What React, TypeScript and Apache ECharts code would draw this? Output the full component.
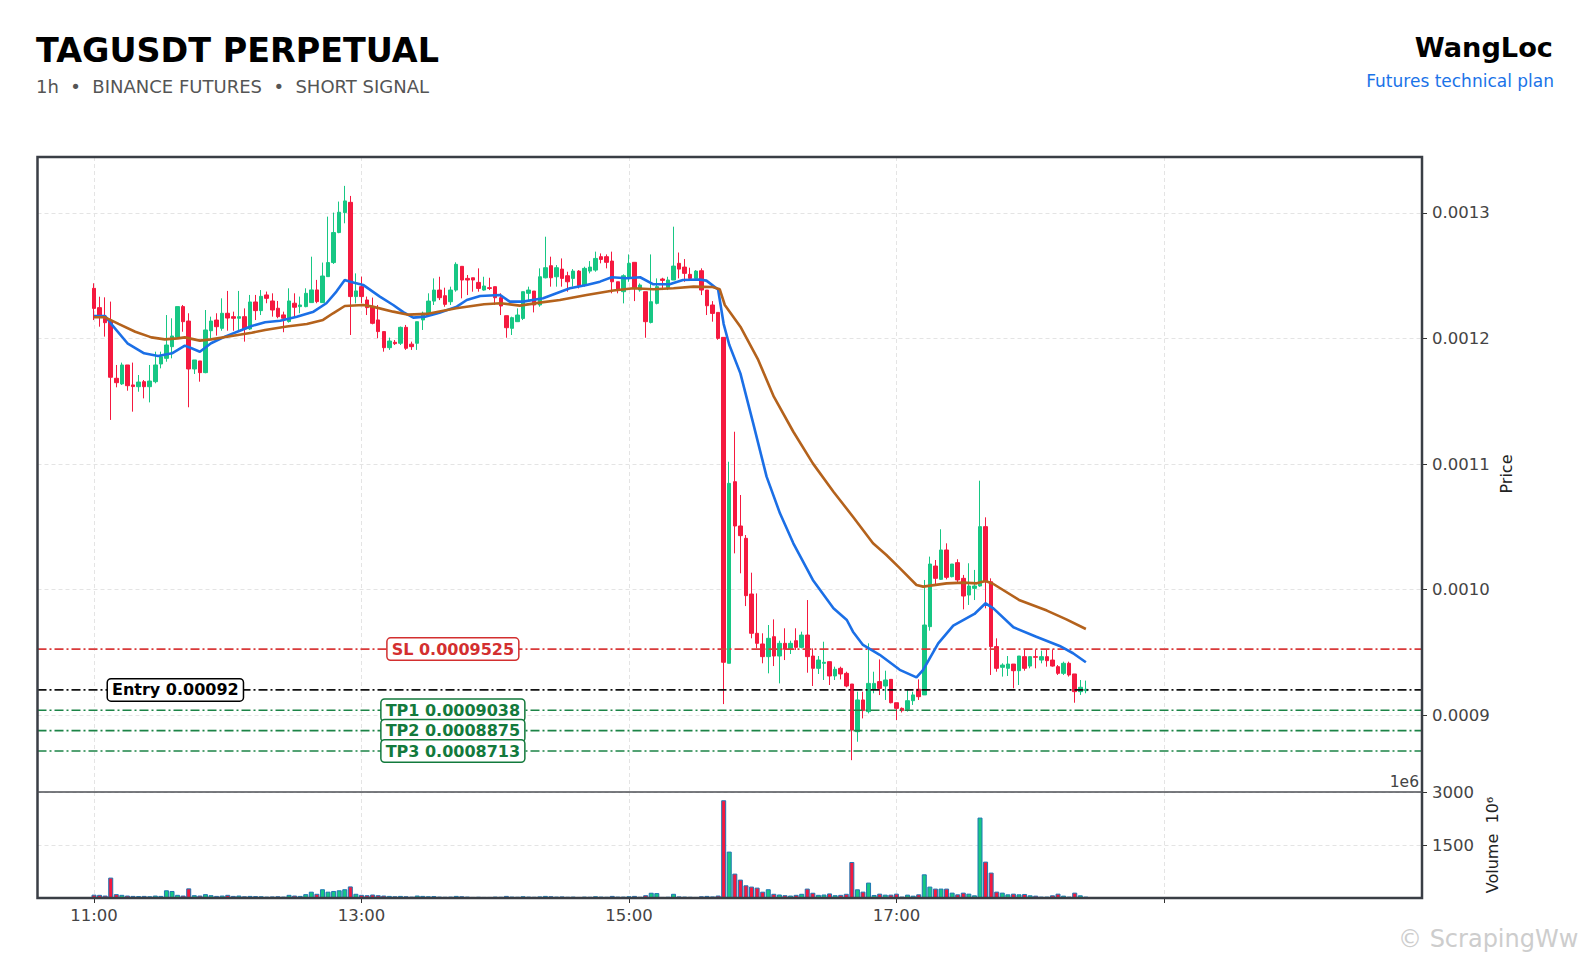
import React, { useEffect, useRef } from "react";
import * as echarts from "echarts";

// ---------- DATA ----------
const T0 = 660; // 11:00 in minutes
const STEP = 2.5; // minutes per candle

// prices in units of 1e-7
const OPEN = [
  12400, 12246, 12161, 12134, 11683, 11638, 11789, 11630, 11616, 11656,
  11616, 11656, 11797, 11842, 11935, 12009, 12254, 12139, 11757, 11821,
  11728, 12062, 12147, 12081, 12201, 12174, 12161, 12174, 12076, 12291,
  12222, 12347, 12299, 12241, 12188, 12135, 12281, 12254, 12254, 12286,
  12387, 12286, 12493, 12605, 12844, 13003, 13085, 12334, 12413, 12307,
  12254, 12148, 12055, 11927, 11970, 11962, 12089, 11955, 11962, 12148,
  12200, 12298, 12386, 12341, 12293, 12386, 12575, 12479, 12484, 12447,
  12386, 12405, 12413, 12325, 12182, 12081, 12134, 12160, 12360, 12378,
  12267, 12484, 12580, 12492, 12553, 12500, 12479, 12537, 12426, 12537,
  12545, 12652, 12652, 12617, 12452, 12373, 12479, 12607, 12386, 12373,
  12128, 12280, 12474, 12405, 12466, 12599, 12569, 12511, 12479, 12540,
  12386, 12267, 12208, 12009, 9412, 10859, 10506, 10408, 9964, 9651,
  9566, 9465, 9624, 9470, 9571, 9523, 9592, 9539, 9637, 9470,
  9372, 9412, 9425, 9311, 9372, 9332, 9247, 8867, 9120, 9027,
  9204, 9266, 9231, 9284, 9098, 9053, 9045, 9114, 9205, 9160,
  9704, 10187, 10081, 10315, 10102, 10214, 10089, 9956, 10009, 10028,
  10501, 10062, 9545, 9380, 9372, 9406, 9353, 9465, 9390, 9465,
  9438, 9465, 9438, 9385, 9332, 9412, 9327, 9186, 9194,
];
const HIGH = [
  12440, 12333, 12328, 12294, 11789, 11808, 11789, 11808, 11709, 11669,
  11789, 11895, 11895, 12187, 12161, 12254, 12267, 12201, 11829, 11821,
  12227, 12174, 12201, 12320, 12379, 12214, 12379, 12240, 12347, 12347,
  12386, 12374, 12360, 12299, 12214, 12400, 12360, 12334, 12400, 12652,
  12467, 12605, 12971, 13003, 13091, 13216, 13136, 12519, 12493, 12334,
  12326, 12267, 12055, 12007, 11988, 12095, 12108, 11975, 12134, 12214,
  12360, 12479, 12492, 12405, 12413, 12607, 12575, 12506, 12484, 12559,
  12492, 12484, 12413, 12360, 12182, 12174, 12240, 12373, 12413, 12378,
  12559, 12811, 12652, 12585, 12638, 12532, 12553, 12545, 12572, 12617,
  12692, 12678, 12670, 12692, 12452, 12511, 12670, 12607, 12439, 12373,
  12670, 12479, 12484, 12492, 12891, 12685, 12633, 12564, 12545, 12559,
  12386, 12298, 12208, 12009, 11018, 11257, 10753, 10434, 10134, 9969,
  9651, 9717, 9762, 9592, 9691, 9592, 9691, 9664, 9916, 9531,
  9470, 9584, 9425, 9385, 9385, 9345, 9247, 9186, 9186, 9571,
  9345, 9443, 9353, 9284, 9098, 9060, 9199, 9186, 9284, 10076,
  10262, 10235, 10480, 10368, 10203, 10241, 10116, 10209, 10156, 10867,
  10575, 10089, 9611, 9412, 9470, 9406, 9470, 9523, 9465, 9523,
  9513, 9523, 9523, 9398, 9425, 9425, 9327, 9279, 9274,
];
const LOW = [
  12147, 12094, 12015, 11351, 11611, 11630, 11584, 11417, 11576, 11523,
  11491, 11643, 11762, 11815, 11842, 12001, 12054, 11452, 11717, 11656,
  11723, 11988, 12023, 12062, 12062, 12062, 12068, 11975, 12068, 12147,
  12187, 12281, 12174, 12161, 12050, 12127, 12174, 12201, 12249, 12286,
  12281, 12286, 12493, 12594, 12839, 12918, 12028, 12280, 12280, 12187,
  12113, 12002, 11895, 11909, 11948, 11948, 11909, 11909, 11909, 12068,
  12187, 12267, 12306, 12253, 12267, 12373, 12320, 12346, 12373, 12373,
  12381, 12386, 12267, 12187, 12006, 12028, 12134, 12147, 12306, 12208,
  12253, 12479, 12413, 12413, 12413, 12373, 12413, 12399, 12413, 12519,
  12532, 12599, 12559, 12360, 12360, 12280, 12452, 12298, 12373, 12006,
  12120, 12272, 12386, 12386, 12466, 12479, 12452, 12474, 12466, 12346,
  12187, 12134, 11990, 9087, 9412, 10288, 10129, 9868, 9611, 9531,
  9412, 9332, 9390, 9252, 9438, 9486, 9518, 9531, 9337, 9231,
  9327, 9279, 9239, 9279, 9284, 9221, 8640, 8787, 8973, 9013,
  9173, 9159, 9120, 9093, 8960, 9020, 9027, 9080, 9120, 9160,
  9672, 10028, 10076, 10081, 10097, 10044, 9842, 9877, 9916, 10022,
  9850, 9319, 9345, 9306, 9311, 9213, 9239, 9353, 9372, 9372,
  9412, 9385, 9385, 9319, 9319, 9306, 9098, 9160, 9173,
];
const CLOSE = [
  12240, 12174, 12126, 11691, 11648, 11789, 11624, 11617, 11653, 11616,
  11661, 11789, 11855, 11948, 12020, 12254, 12134, 11757, 11829, 11728,
  12068, 12139, 12094, 12201, 12163, 12161, 12174, 12076, 12291, 12222,
  12336, 12320, 12227, 12174, 12161, 12299, 12249, 12267, 12360, 12387,
  12294, 12498, 12605, 12844, 13006, 13096, 12334, 12379, 12334, 12246,
  12121, 12055, 11927, 11980, 11959, 12089, 11922, 11935, 12134, 12201,
  12298, 12386, 12325, 12272, 12386, 12591, 12466, 12466, 12466, 12399,
  12418, 12399, 12325, 12259, 12086, 12166, 12187, 12373, 12386, 12267,
  12492, 12564, 12484, 12564, 12479, 12452, 12537, 12421, 12559, 12569,
  12638, 12630, 12607, 12452, 12386, 12500, 12599, 12399, 12426, 12134,
  12293, 12413, 12463, 12466, 12577, 12553, 12519, 12479, 12537, 12386,
  12261, 12200, 12001, 9420, 10846, 10506, 10429, 9951, 9651, 9571,
  9465, 9611, 9470, 9571, 9523, 9571, 9539, 9637, 9465, 9372,
  9438, 9420, 9311, 9364, 9327, 9231, 8880, 9120, 9035, 9252,
  9252, 9212, 9279, 9098, 9053, 9035, 9114, 9160, 9146, 9717,
  10203, 10089, 10315, 10097, 10203, 10076, 9948, 10028, 10028, 10501,
  10062, 9545, 9372, 9398, 9406, 9353, 9470, 9372, 9465, 9460,
  9465, 9433, 9390, 9332, 9412, 9319, 9186, 9221, 9205,
];
// volume in units of 1e6
const VOLUME = [
  95, 90, 70, 581, 110, 90, 70, 60, 55, 60,
  50, 70, 60, 220, 200, 90, 70, 275, 80, 70,
  110, 80, 60, 70, 90, 60, 70, 50, 60, 55,
  50, 40, 45, 50, 40, 90, 70, 60, 110, 180,
  120, 250, 180, 200, 220, 250, 330, 120, 90, 80,
  100, 80, 70, 60, 50, 60, 50, 40, 70, 60,
  50, 55, 40, 35, 40, 60, 50, 40, 30, 35,
  30, 30, 40, 35, 60, 40, 35, 50, 40, 35,
  45, 60, 50, 40, 45, 35, 40, 30, 40, 35,
  50, 40, 35, 60, 40, 40, 50, 60, 35, 80,
  150, 140, 30, 35, 120, 45, 40, 35, 30, 50,
  60, 45, 70, 2785, 1322, 695, 524, 362, 325, 296,
  180, 250, 120, 100, 80, 70, 90, 120, 268, 150,
  90, 100, 130, 80, 90, 120, 1026, 248, 182, 439,
  86, 124, 96, 96, 124, 40, 96, 67, 105, 675,
  325, 268, 268, 268, 153, 105, 153, 124, 77, 2291,
  1037, 724, 182, 153, 105, 124, 105, 115, 77, 67,
  40, 40, 77, 124, 67, 40, 153, 77, 40,
];
// moving averages: [candle index, price * 1e7]
const EMA_FAST = [
  [0, 12179], [2, 12179], [3, 12121], [6, 11962], [9, 11882], [11.5, 11861],
  [14, 11882], [16.3, 11943], [17.5, 11922], [19, 11895], [21, 11962], [23.5, 12015],
  [26.5, 12068], [28.3, 12100], [30.7, 12130], [33.4, 12142], [36.4, 12174], [39.4, 12214],
  [41.7, 12281], [43.5, 12374], [45, 12466], [46, 12453], [48.3, 12427], [51.3, 12334],
  [53.7, 12267], [55.5, 12210], [57.3, 12166], [59.4, 12174], [62, 12205], [65.1, 12254],
  [66.9, 12307], [69.3, 12339], [72.9, 12347], [74.6, 12294], [77, 12294], [80.6, 12320],
  [83, 12360], [85.4, 12400], [88.4, 12427], [90.8, 12453], [92.9, 12488], [95.6, 12480],
  [98, 12488], [100.4, 12432], [103.3, 12432], [105.7, 12466], [108.7, 12470], [109.9, 12461],
  [112, 12390], [113, 12115], [114, 11950], [116, 11722], [118.3, 11324], [120.7, 10899],
  [123.1, 10607], [125.5, 10368], [129, 10076], [132.7, 9850], [135.1, 9757], [136.2, 9664],
  [138, 9558], [141, 9480], [144.6, 9360], [147.6, 9300], [148.8, 9359], [151.5, 9571],
  [154.2, 9712], [158, 9805], [160, 9890], [161.4, 9850], [165, 9699], [169.1, 9624],
  [173.3, 9550], [175.7, 9492], [178, 9420],
];
const EMA_SLOW = [
  [0, 12169], [2, 12169], [4.4, 12116], [7.4, 12054], [10.3, 12009], [12.7, 11993],
  [15, 12001], [16.3, 12009], [19, 11983], [21, 11993], [24.7, 12020], [28.3, 12046],
  [30.7, 12068], [34.6, 12095], [38.2, 12116], [41.1, 12148], [42.9, 12201], [45, 12259],
  [48.3, 12267], [50, 12254], [53.7, 12214], [56.4, 12190], [59.7, 12196], [65, 12241],
  [70, 12273], [73, 12281], [76.4, 12262], [80, 12286], [83.6, 12307], [88.4, 12347],
  [93.2, 12382], [96.8, 12400], [100.4, 12392], [104, 12400], [107.6, 12413], [111, 12410],
  [112.3, 12392], [113.2, 12267], [116, 12094], [119.2, 11829], [122, 11536], [125.5, 11257],
  [129, 11005], [132.7, 10779], [136.2, 10580], [139.8, 10368], [142.2, 10275], [144.6, 10170],
  [147.6, 10036], [148.8, 10023], [153, 10049], [156, 10055], [158.4, 10049], [160, 10068],
  [161.4, 10044], [166, 9917], [171, 9832], [174.5, 9762], [178, 9685],
];
const LEVEL_NAMES = ["SL", "Entry", "TP1", "TP2", "TP3"];
const LEVEL_VALUES = [0.0009525, 0.00092, 0.0009038, 0.0008875, 0.0008713];
const LEVEL_TEXTS = ["0.0009525", "0.00092", "0.0009038", "0.0008875", "0.0008713"];

const PRICE_TICKS = [0.0009, 0.001, 0.0011, 0.0012, 0.0013];
const VOLUME_TICKS = [1500, 3000];
const TIME_TICKS = [660, 780, 900, 1020, 1140];
const TIME_LABELS = [660, 780, 900, 1020];

// ---------- LAYOUT / STYLE ----------
const FONT = '"DejaVu Sans", Verdana, sans-serif';
const GREEN = "#17c784";
const RED = "#f5193f";
const LEFT = 37.5;
const RIGHT_EDGE = 1422;
const MAIN_TOP = 157;
const DIVIDER = 792;
const BOTTOM = 898;
const X_MIN = 634.65;
const X_MAX = 1255.8;
const P_MIN = 0.00083865;
const P_MAX = 0.00134462;
const V_MAX = 3020;
const LABEL_X = [821, 696.5, 821, 821, 821];
const LEVEL_LINE_COLORS = ["#d93a3a", "#111111", "#1c8447", "#1c8447", "#1c8447"];
const LEVEL_TEXT_COLORS = ["#d32f2f", "#000000", "#137a3c", "#137a3c", "#137a3c"];

const tickColor = "#333";
const labelColor = "#444";
const gridLine = { show: true, lineStyle: { color: "#e4e4e4", type: [4, 3], width: 1 } };

function fmtTime(v: number) {
  const h = Math.floor(v / 60);
  const m = Math.round(v % 60);
  return `${h}:${m < 10 ? "0" + m : m}`;
}

export default function App() {
  const ref = useRef<HTMLDivElement>(null);

  useEffect(() => {
    if (!ref.current) return;
    const chart = echarts.init(ref.current, undefined, { renderer: "svg" });

    const tOf = (i: number) => T0 + STEP * i;
    const candles = OPEN.map((o, i) => [tOf(i), o / 1e7, CLOSE[i] / 1e7, LOW[i] / 1e7, HIGH[i] / 1e7]);
    const vols = VOLUME.map((v, i) => ({
      value: [tOf(i), v],
      itemStyle: { color: CLOSE[i] >= OPEN[i] ? GREEN : RED },
    }));

    const levelLines = LEVEL_VALUES.map((v, k) => ({
      type: "line", name: LEVEL_NAMES[k], xAxisIndex: 0, yAxisIndex: 0, z: 3, silent: true,
      data: [[X_MIN, v], [X_MAX, v]],
      showSymbol: false, symbol: "none",
      lineStyle: { color: LEVEL_LINE_COLORS[k], type: [9, 3, 2, 3], width: 1.7 },
    }));

    const option: any = {
      animation: false,
      backgroundColor: "#ffffff",
      textStyle: { fontFamily: FONT },
      grid: [
        { left: LEFT, top: MAIN_TOP, width: RIGHT_EDGE - LEFT, height: DIVIDER - MAIN_TOP, containLabel: false },
        { left: LEFT, top: DIVIDER, width: RIGHT_EDGE - LEFT, height: BOTTOM - DIVIDER, containLabel: false },
      ],
      xAxis: [
        {
          type: "value", gridIndex: 0, min: X_MIN, max: X_MAX,
          axisLine: { show: false },
          axisTick: { show: false, customValues: TIME_TICKS },
          axisLabel: { show: false, customValues: TIME_TICKS },
          splitLine: gridLine,
        },
        {
          type: "value", gridIndex: 1, min: X_MIN, max: X_MAX,
          axisLine: { show: false },
          axisTick: { show: true, customValues: TIME_TICKS, length: 5, lineStyle: { color: tickColor, width: 1 } },
          axisLabel: {
            customValues: TIME_LABELS, formatter: (v: number) => fmtTime(v),
            color: labelColor, fontSize: 16.5, fontFamily: FONT, margin: 9,
          },
          splitLine: gridLine,
        },
      ],
      yAxis: [
        {
          type: "value", gridIndex: 0, position: "right", min: P_MIN, max: P_MAX,
          axisLine: { show: false },
          axisTick: { show: true, customValues: PRICE_TICKS, length: 5, lineStyle: { color: tickColor, width: 1 } },
          axisLabel: {
            customValues: PRICE_TICKS, formatter: (v: number) => v.toFixed(4),
            color: labelColor, fontSize: 16.5, fontFamily: FONT, margin: 10,
          },
          splitLine: gridLine,
        },
        {
          type: "value", gridIndex: 1, position: "right", min: 0, max: V_MAX,
          axisLine: { show: false },
          axisTick: { show: true, customValues: VOLUME_TICKS, length: 5, lineStyle: { color: tickColor, width: 1 } },
          axisLabel: {
            customValues: VOLUME_TICKS, formatter: (v: number) => String(Math.round(v)),
            color: labelColor, fontSize: 16.5, fontFamily: FONT, margin: 10,
          },
          splitLine: gridLine,
        },
      ],
      series: [
        {
          type: "candlestick", name: "price", xAxisIndex: 0, yAxisIndex: 0,
          data: candles, encode: { x: 0, y: [1, 2, 3, 4] },
          barWidth: 4, z: 2, silent: true,
          itemStyle: { color: GREEN, color0: RED, borderColor: GREEN, borderColor0: RED, borderWidth: 1 },
        },
        {
          type: "line", name: "EMA fast", xAxisIndex: 0, yAxisIndex: 0, z: 4, silent: true,
          data: EMA_FAST.map(([i, v]) => [tOf(i), v / 1e7]),
          showSymbol: false, symbol: "none",
          lineStyle: { color: "#1b6fe6", width: 2.6 },
        },
        {
          type: "line", name: "EMA slow", xAxisIndex: 0, yAxisIndex: 0, z: 4, silent: true,
          data: EMA_SLOW.map(([i, v]) => [tOf(i), v / 1e7]),
          showSymbol: false, symbol: "none",
          lineStyle: { color: "#b4621c", width: 2.6 },
        },
        ...levelLines,
        {
          type: "scatter", name: "level labels", xAxisIndex: 0, yAxisIndex: 0, z: 10, silent: true,
          symbolSize: 1, itemStyle: { color: "rgba(0,0,0,0)", opacity: 1 },
          data: LEVEL_VALUES.map((v, k) => ({
            value: [LABEL_X[k], v],
            label: {
              show: true, position: "inside",
              formatter: `${LEVEL_NAMES[k]} ${LEVEL_TEXTS[k]}`,
              color: LEVEL_TEXT_COLORS[k], borderColor: LEVEL_TEXT_COLORS[k],
            },
          })),
          label: {
            show: true, position: "inside", fontFamily: FONT, fontWeight: "bold", fontSize: 16,
            backgroundColor: "#ffffff", borderWidth: 1.5, borderRadius: 3, padding: [3, 4, 2, 4],
            opacity: 1,
          },
        },
        {
          type: "bar", name: "volume", xAxisIndex: 1, yAxisIndex: 1, z: 2, silent: true,
          data: vols, barWidth: 5,
          itemStyle: { borderColor: "#1f77b4", borderWidth: 1 },
        },
      ],
      graphic: [
        {
          type: "rect", silent: true, z: 100,
          shape: { x: LEFT, y: MAIN_TOP, width: RIGHT_EDGE - LEFT, height: BOTTOM - MAIN_TOP },
          style: { fill: "none", stroke: "#3a3e45", lineWidth: 2.5 },
        },
        {
          type: "line", silent: true, z: 100,
          shape: { x1: LEFT, y1: DIVIDER, x2: RIGHT_EDGE, y2: DIVIDER },
          style: { stroke: "#4d4f54", lineWidth: 1.5 },
        },
        {
          type: "text", x: 36, y: 50, silent: true,
          style: { text: "TAGUSDT PERPETUAL", fontSize: 33.4, fontWeight: "bold", fontFamily: FONT, fill: "#000", align: "left", verticalAlign: "middle" },
        },
        {
          type: "text", x: 36, y: 86, silent: true,
          style: { text: "1h  •  BINANCE FUTURES  •  SHORT SIGNAL", fontSize: 18, fontFamily: FONT, fill: "#555", align: "left", verticalAlign: "middle" },
        },
        {
          type: "text", x: 1553, y: 47, silent: true,
          style: { text: "WangLoc", fontSize: 27.2, fontWeight: "bold", fontFamily: FONT, fill: "#000", align: "right", verticalAlign: "middle" },
        },
        {
          type: "text", x: 1554, y: 80.5, silent: true,
          style: { text: "Futures technical plan", fontSize: 17, fontFamily: FONT, fill: "#1a73e8", align: "right", verticalAlign: "middle" },
        },
        {
          type: "text", x: 1506, y: 474, rotation: Math.PI / 2, silent: true,
          style: { text: "Price", fontSize: 16, fontFamily: FONT, fill: "#222", align: "center", verticalAlign: "middle" },
        },
        {
          type: "text", x: 1492, y: 845, rotation: Math.PI / 2, silent: true,
          style: { text: "Volume  10⁶", fontSize: 16, fontFamily: FONT, fill: "#222", align: "center", verticalAlign: "middle" },
        },
        {
          type: "text", x: 1419, y: 782, silent: true,
          style: { text: "1e6", fontSize: 15.5, fontFamily: FONT, fill: labelColor, align: "right", verticalAlign: "middle" },
        },
        {
          type: "text", x: 1398, y: 939, silent: true,
          style: { text: "© ScrapingWw", fontSize: 24, fontFamily: FONT, fill: "#cdcdcd", align: "left", verticalAlign: "middle" },
        },
      ],
    };

    chart.setOption(option);
    return () => chart.dispose();
  }, []);

  return (
    <div
      ref={ref}
      style={{ position: "fixed", left: 0, top: 0, width: 1590, height: 962, background: "#fff" }}
    />
  );
}
